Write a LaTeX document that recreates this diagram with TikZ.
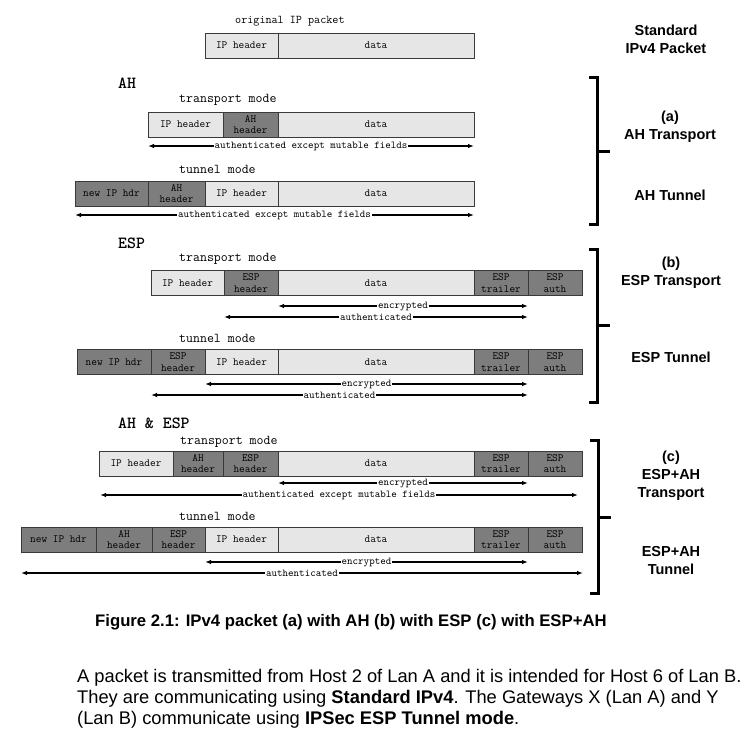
\documentclass[tikz,border=0pt]{standalone}
\usepackage{fontspec}
\setmainfont{Liberation Sans}
\usetikzlibrary{arrows.meta, positioning}
\definecolor{FieldLight}{HTML}{E6E6E6}
\definecolor{FieldDark}{HTML}{7D7D7D}
\definecolor{FieldLine}{HTML}{3A3A3A}
\tikzset{
    field/.style={
        rectangle,
        draw=FieldLine,
        line width=1pt,
        minimum height=25pt,
        inner sep=0pt,
        outer sep=0pt,
        align=center,
        font=\fontsize{11}{11.5}\selectfont\ttfamily
    },
    plainfield/.style={
        field,
        fill=FieldLight
    },
    secfield/.style={
        field,
        fill=FieldDark
    },
    span/.style={
        {Latex[length=6pt, width=4.5pt]}-{Latex[length=6pt, width=4.5pt]},
        draw=black,
        line width=1.2pt
    },
    spanlabel/.style={
        fill=white,
        inner sep=1pt,
        font=\fontsize{10.5}{10.5}\selectfont\ttfamily
    },
    modelabel/.style={
        anchor=west,
        inner sep=0pt,
        font=\fontsize{13.5}{13.5}\selectfont\ttfamily
    },
    grouplabel/.style={
        anchor=west,
        inner sep=0pt,
        font=\fontsize{17}{17}\selectfont\ttfamily\bfseries
    },
    sidelabel/.style={
        align=center,
        font=\fontsize{14.5}{18}\selectfont\bfseries
    },
    bracket/.style={
        line width=3pt
    }
}
\begin{document}
\begin{tikzpicture}[x=1pt, y=-1pt]
    \useasboundingbox (0,0) rectangle (755,740);

    % Original packet
    \node[modelabel, font=\fontsize{11.8}{11.8}\selectfont\ttfamily] (orglabel) at (235,21) {original IP packet};
    \node[plainfield, minimum width=196pt] (org-data) at (376,45.5) {data};
    \node[plainfield, minimum width=73pt, left=0pt of org-data] (org-ip) {IP header};
    \node[sidelabel] (stdlabel) at (666,39) {Standard\\IPv4 Packet};

    % AH
    \node[grouplabel] (ahlabel) at (118,83) {AH};
    \node[modelabel] (ahtr-mode) at (179,100) {transport mode};
    \node[plainfield, minimum width=196pt] (ahtr-data) at (376,124.5) {data};
    \node[secfield, minimum width=55pt, left=0pt of ahtr-data] (ahtr-ah) {AH\\header};
    \node[plainfield, minimum width=75pt, left=0pt of ahtr-ah] (ahtr-ip) {IP header};
    \coordinate (ahtr-authL) at (148,146);
    \coordinate (ahtr-authR) at (474,146);
    \draw[span] (ahtr-authL) -- node[spanlabel] {authenticated except mutable fields} (ahtr-authR);

    \node[modelabel] (ahtun-mode) at (179,169) {tunnel mode};
    \node[plainfield, minimum width=196pt] (ahtun-data) at (376,193.5) {data};
    \node[plainfield, minimum width=73pt, left=0pt of ahtun-data] (ahtun-ip) {IP header};
    \node[secfield, minimum width=57pt, left=0pt of ahtun-ip] (ahtun-ah) {AH\\header};
    \node[secfield, minimum width=73pt, left=0pt of ahtun-ah] (ahtun-new) {new IP hdr};
    \coordinate (ahtun-authL) at (75,215);
    \coordinate (ahtun-authR) at (474,215);
    \draw[span] (ahtun-authL) -- node[spanlabel] {authenticated except mutable fields} (ahtun-authR);

    % ESP
    \node[grouplabel] (esplabel) at (118,243) {ESP};
    \node[modelabel] (esptr-mode) at (179,259) {transport mode};
    \node[plainfield, minimum width=196pt] (esptr-data) at (376,283) {data};
    \node[secfield, minimum width=54pt, left=0pt of esptr-data] (esptr-esp) {ESP\\header};
    \node[plainfield, minimum width=73pt, left=0pt of esptr-esp] (esptr-ip) {IP header};
    \node[secfield, minimum width=54pt, right=0pt of esptr-data] (esptr-trl) {ESP\\trailer};
    \node[secfield, minimum width=54pt, right=0pt of esptr-trl] (esptr-auth) {ESP\\auth};
    \coordinate (esptr-encL) at (278,306);
    \coordinate (esptr-encR) at (528,306);
    \coordinate (esptr-authL) at (224,317);
    \coordinate (esptr-authR) at (528,317);
    \draw[span] (esptr-encL) -- node[spanlabel] {encrypted} (esptr-encR);
    \draw[span] (esptr-authL) -- node[spanlabel] {authenticated} (esptr-authR);

    \node[modelabel] (esptun-mode) at (179,338) {tunnel mode};
    \node[plainfield, minimum width=196pt] (esptun-data) at (376,362) {data};
    \node[plainfield, minimum width=73pt, left=0pt of esptun-data] (esptun-ip) {IP header};
    \node[secfield, minimum width=54pt, left=0pt of esptun-ip] (esptun-esp) {ESP\\header};
    \node[secfield, minimum width=74pt, left=0pt of esptun-esp] (esptun-new) {new IP hdr};
    \node[secfield, minimum width=54pt, right=0pt of esptun-data] (esptun-trl) {ESP\\trailer};
    \node[secfield, minimum width=54pt, right=0pt of esptun-trl] (esptun-auth) {ESP\\auth};
    \coordinate (esptun-encL) at (205,384);
    \coordinate (esptun-encR) at (528,384);
    \coordinate (esptun-authL) at (151,395);
    \coordinate (esptun-authR) at (528,395);
    \draw[span] (esptun-encL) -- node[spanlabel] {encrypted} (esptun-encR);
    \draw[span] (esptun-authL) -- node[spanlabel] {authenticated} (esptun-authR);

    % AH & ESP
    \node[grouplabel] (aelabel) at (118,423) {AH \& ESP};
    \node[modelabel] (aetr-mode) at (180,442) {transport mode};
    \node[plainfield, minimum width=196pt] (aetr-data) at (376,463.5) {data};
    \node[secfield, minimum width=55pt, left=0pt of aetr-data] (aetr-esp) {ESP\\header};
    \node[secfield, minimum width=50pt, left=0pt of aetr-esp] (aetr-ah) {AH\\header};
    \node[plainfield, minimum width=74pt, left=0pt of aetr-ah] (aetr-ip) {IP header};
    \node[secfield, minimum width=54pt, right=0pt of aetr-data] (aetr-trl) {ESP\\trailer};
    \node[secfield, minimum width=54pt, right=0pt of aetr-trl] (aetr-auth) {ESP\\auth};
    \coordinate (aetr-encL) at (278,483);
    \coordinate (aetr-encR) at (528,483);
    \coordinate (aetr-authL) at (100,495);
    \coordinate (aetr-authR) at (578,495);
    \draw[span] (aetr-encL) -- node[spanlabel] {encrypted} (aetr-encR);
    \draw[span] (aetr-authL) -- node[spanlabel] {authenticated except mutable fields} (aetr-authR);

    \node[modelabel] (aetun-mode) at (179,516) {tunnel mode};
    \node[plainfield, minimum width=196pt] (aetun-data) at (376,539.5) {data};
    \node[plainfield, minimum width=73pt, left=0pt of aetun-data] (aetun-ip) {IP header};
    \node[secfield, minimum width=53pt, left=0pt of aetun-ip] (aetun-esp) {ESP\\header};
    \node[secfield, minimum width=56pt, left=0pt of aetun-esp] (aetun-ah) {AH\\header};
    \node[secfield, minimum width=75pt, left=0pt of aetun-ah] (aetun-new) {new IP hdr};
    \node[secfield, minimum width=54pt, right=0pt of aetun-data] (aetun-trl) {ESP\\trailer};
    \node[secfield, minimum width=54pt, right=0pt of aetun-trl] (aetun-auth) {ESP\\auth};
    \coordinate (aetun-encL) at (205,562);
    \coordinate (aetun-encR) at (528,562);
    \coordinate (aetun-authL) at (21,573);
    \coordinate (aetun-authR) at (583,573);
    \draw[span] (aetun-encL) -- node[spanlabel] {encrypted} (aetun-encR);
    \draw[span] (aetun-authL) -- node[spanlabel] {authenticated} (aetun-authR);

    % Brackets and side labels
    \draw[bracket] (589,77) -- (597,77) -- (597,224) -- (589,224);
    \draw[bracket] (597,151) -- (610,151);
    \node[sidelabel] (alabel) at (670,126.5) {(a)\\AH Transport};
    \node[sidelabel] (ahtunlabel) at (670,195) {AH Tunnel};

    \draw[bracket] (589,249) -- (597,249) -- (597,402) -- (589,402);
    \draw[bracket] (597,325) -- (610,325);
    \node[sidelabel] (blabel) at (671,272.5) {(b)\\ESP Transport};
    \node[sidelabel] (esptunlabel) at (671,357) {ESP Tunnel};

    \draw[bracket] (590,440) -- (598,440) -- (598,593) -- (590,593);
    \draw[bracket] (598,517) -- (611,517);
    \node[sidelabel] (clabel) at (671,476) {(c)\\ESP+AH\\Transport};
    \node[sidelabel] (aetunlabel) at (671,560.5) {ESP+AH\\Tunnel};

    % Caption and text
    \node[anchor=base west, inner sep=0pt, font=\fontsize{16.7}{20}\selectfont\bfseries] (caption) at (95,626) {Figure 2.1: IPv4 packet (a) with AH (b) with ESP (c) with ESP+AH};
    \node[anchor=north west, inner sep=0pt, align=left, font=\fontsize{18.3}{21}\selectfont] (story) at (77,669) {A packet is transmitted from Host 2 of Lan A and it is intended for Host 6 of Lan B.\\They are communicating using \textbf{Standard IPv4}. The Gateways X (Lan A) and Y\\(Lan B) communicate using \textbf{IPSec ESP Tunnel mode}.};
\end{tikzpicture}
\end{document}
